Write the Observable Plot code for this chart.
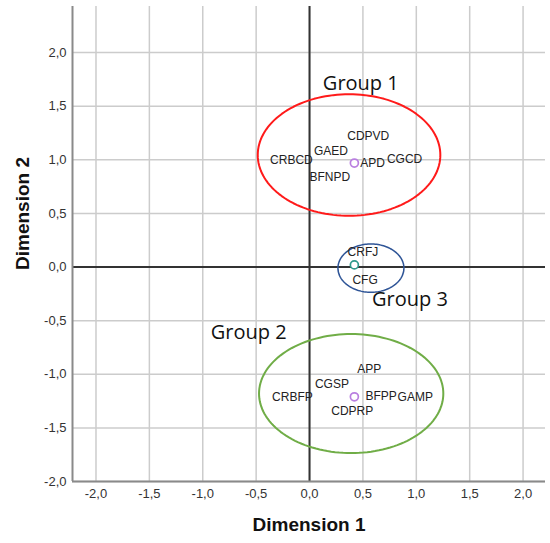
<!DOCTYPE html>
<html><head><meta charset="utf-8">
<script src="https://cdn.jsdelivr.net/npm/d3@7"></script>
<script src="https://cdn.jsdelivr.net/npm/@observablehq/plot@0.6"></script>
<style>body{margin:0;background:#fff}</style>
</head><body><div id="chart"></div>
<script>
// Variable labels (text positions in the 2-D space)
const labels = ["CDPVD","GAED","CRBCD","APD","CGCD","BFNPD","CRFJ","CFG","APP","CGSP","CRBFP","BFPP","GAMP","CDPRP"];
const labelX = [0.55, 0.20, -0.17, 0.59, 0.89, 0.19, 0.50, 0.52, 0.56, 0.21, -0.16, 0.67, 0.99, 0.40];
const labelY = [1.22, 1.08, 1.00, 0.97, 1.01, 0.84, 0.14, -0.12, -0.95, -1.09, -1.21, -1.20, -1.21, -1.34];
// Group centroids (small circles)
const centroidX = [0.42, 0.42, 0.42];
const centroidY = [0.97, 0.02, -1.21];
const centroidColor = ["#b97fe0", "#2f9a8c", "#b97fe0"];
// Group ellipses
const groupNames = ["Group 1", "Group 2", "Group 3"];
const groupCX = [0.37, 0.39, 0.575];
const groupCY = [1.045, -1.18, -0.01];
const groupRX = [0.855, 0.863, 0.309];
const groupRY = [0.567, 0.555, 0.225];
const groupColor = ["#ff1a1a", "#70ad47", "#2f5597"];
const groupWidth = [2, 2, 1.5];
const groupLabelX = [0.48, -0.57, 0.94];
const groupLabelY = [1.71, -0.61, -0.30];
// Axes
const ticks = [-2, -1.5, -1, -0.5, 0, 0.5, 1, 1.5, 2];
const tickLabels = ["-2,0","-1,5","-1,0","-0,5","0,0","0,5","1,0","1,5","2,0"];
const xDomain = [-2.22, 2.21];
const yDomain = [-2.0, 2.43];

const fmt = d => tickLabels[ticks.indexOf(d)];

// ellipse outlines built from the centre/radius values above
const ellipsePts = [];
groupNames.forEach((g, i) => {
  for (let k = 0; k < 144; k++) {
    const t = 2 * Math.PI * k / 144;
    ellipsePts.push({g, c: groupColor[i], w: groupWidth[i],
      x: groupCX[i] + groupRX[i] * Math.cos(t),
      y: groupCY[i] + groupRY[i] * Math.sin(t)});
  }
});
const idxL = labels.map((_, i) => i);
const idxC = centroidX.map((_, i) => i);
const idxG = groupNames.map((_, i) => i);

const chart = Plot.plot({
  width: 550, height: 543,
  marginLeft: 72, marginRight: 5, marginTop: 6, marginBottom: 62,
  style: {fontFamily: "'Liberation Sans', Arial, sans-serif", background: "#fff"},
  x: {domain: xDomain},
  y: {domain: yDomain},
  color: {type: "identity"},
  marks: [
    Plot.gridX(ticks, {stroke: "#cccccc", strokeOpacity: 1, strokeWidth: 1.5}),
    Plot.gridY(ticks, {stroke: "#cccccc", strokeOpacity: 1, strokeWidth: 1.5}),
    Plot.ruleX([0], {stroke: "#333", strokeWidth: 2}),
    Plot.ruleY([0], {stroke: "#333", strokeWidth: 2}),
    Plot.ruleX([xDomain[0]], {stroke: "#8a8a8a", strokeWidth: 2}),
    Plot.ruleY([yDomain[0]], {stroke: "#8a8a8a", strokeWidth: 2}),
    Plot.axisX(ticks, {tickSize: 0, tickPadding: 7, tickFormat: fmt, fontSize: 13, fill: "#333", label: null}),
    Plot.axisY(ticks, {tickSize: 0, tickPadding: 6, tickFormat: fmt, fontSize: 13, fill: "#333", label: null}),
    Plot.line(ellipsePts, {x: "x", y: "y", z: "g", stroke: "c", strokeWidth: "w", curve: "linear-closed"}),
    Plot.dot(idxC, {x: i => centroidX[i], y: i => centroidY[i], r: 4, stroke: i => centroidColor[i], strokeWidth: 1.7, fill: "white"}),
    Plot.text(idxL, {x: i => labelX[i], y: i => labelY[i], text: i => labels[i], fontSize: 12, fill: "#222"}),
    Plot.text(idxG, {x: i => groupLabelX[i], y: i => groupLabelY[i], text: i => groupNames[i], fontSize: 20, fill: "#111", fontFamily: "'Open Sans', sans-serif"}),
    Plot.text(["Dimension 1"], {frameAnchor: "bottom", text: d => d, dy: 49, fontSize: 19, fontWeight: "bold", fill: "#111"}),
    Plot.text(["Dimension 2"], {frameAnchor: "left", text: d => d, dx: -50, dy: 26, rotate: -90, fontSize: 19, fontWeight: "bold", fill: "#111"})
  ]
});
document.getElementById("chart").append(chart);
</script>
</body></html>
